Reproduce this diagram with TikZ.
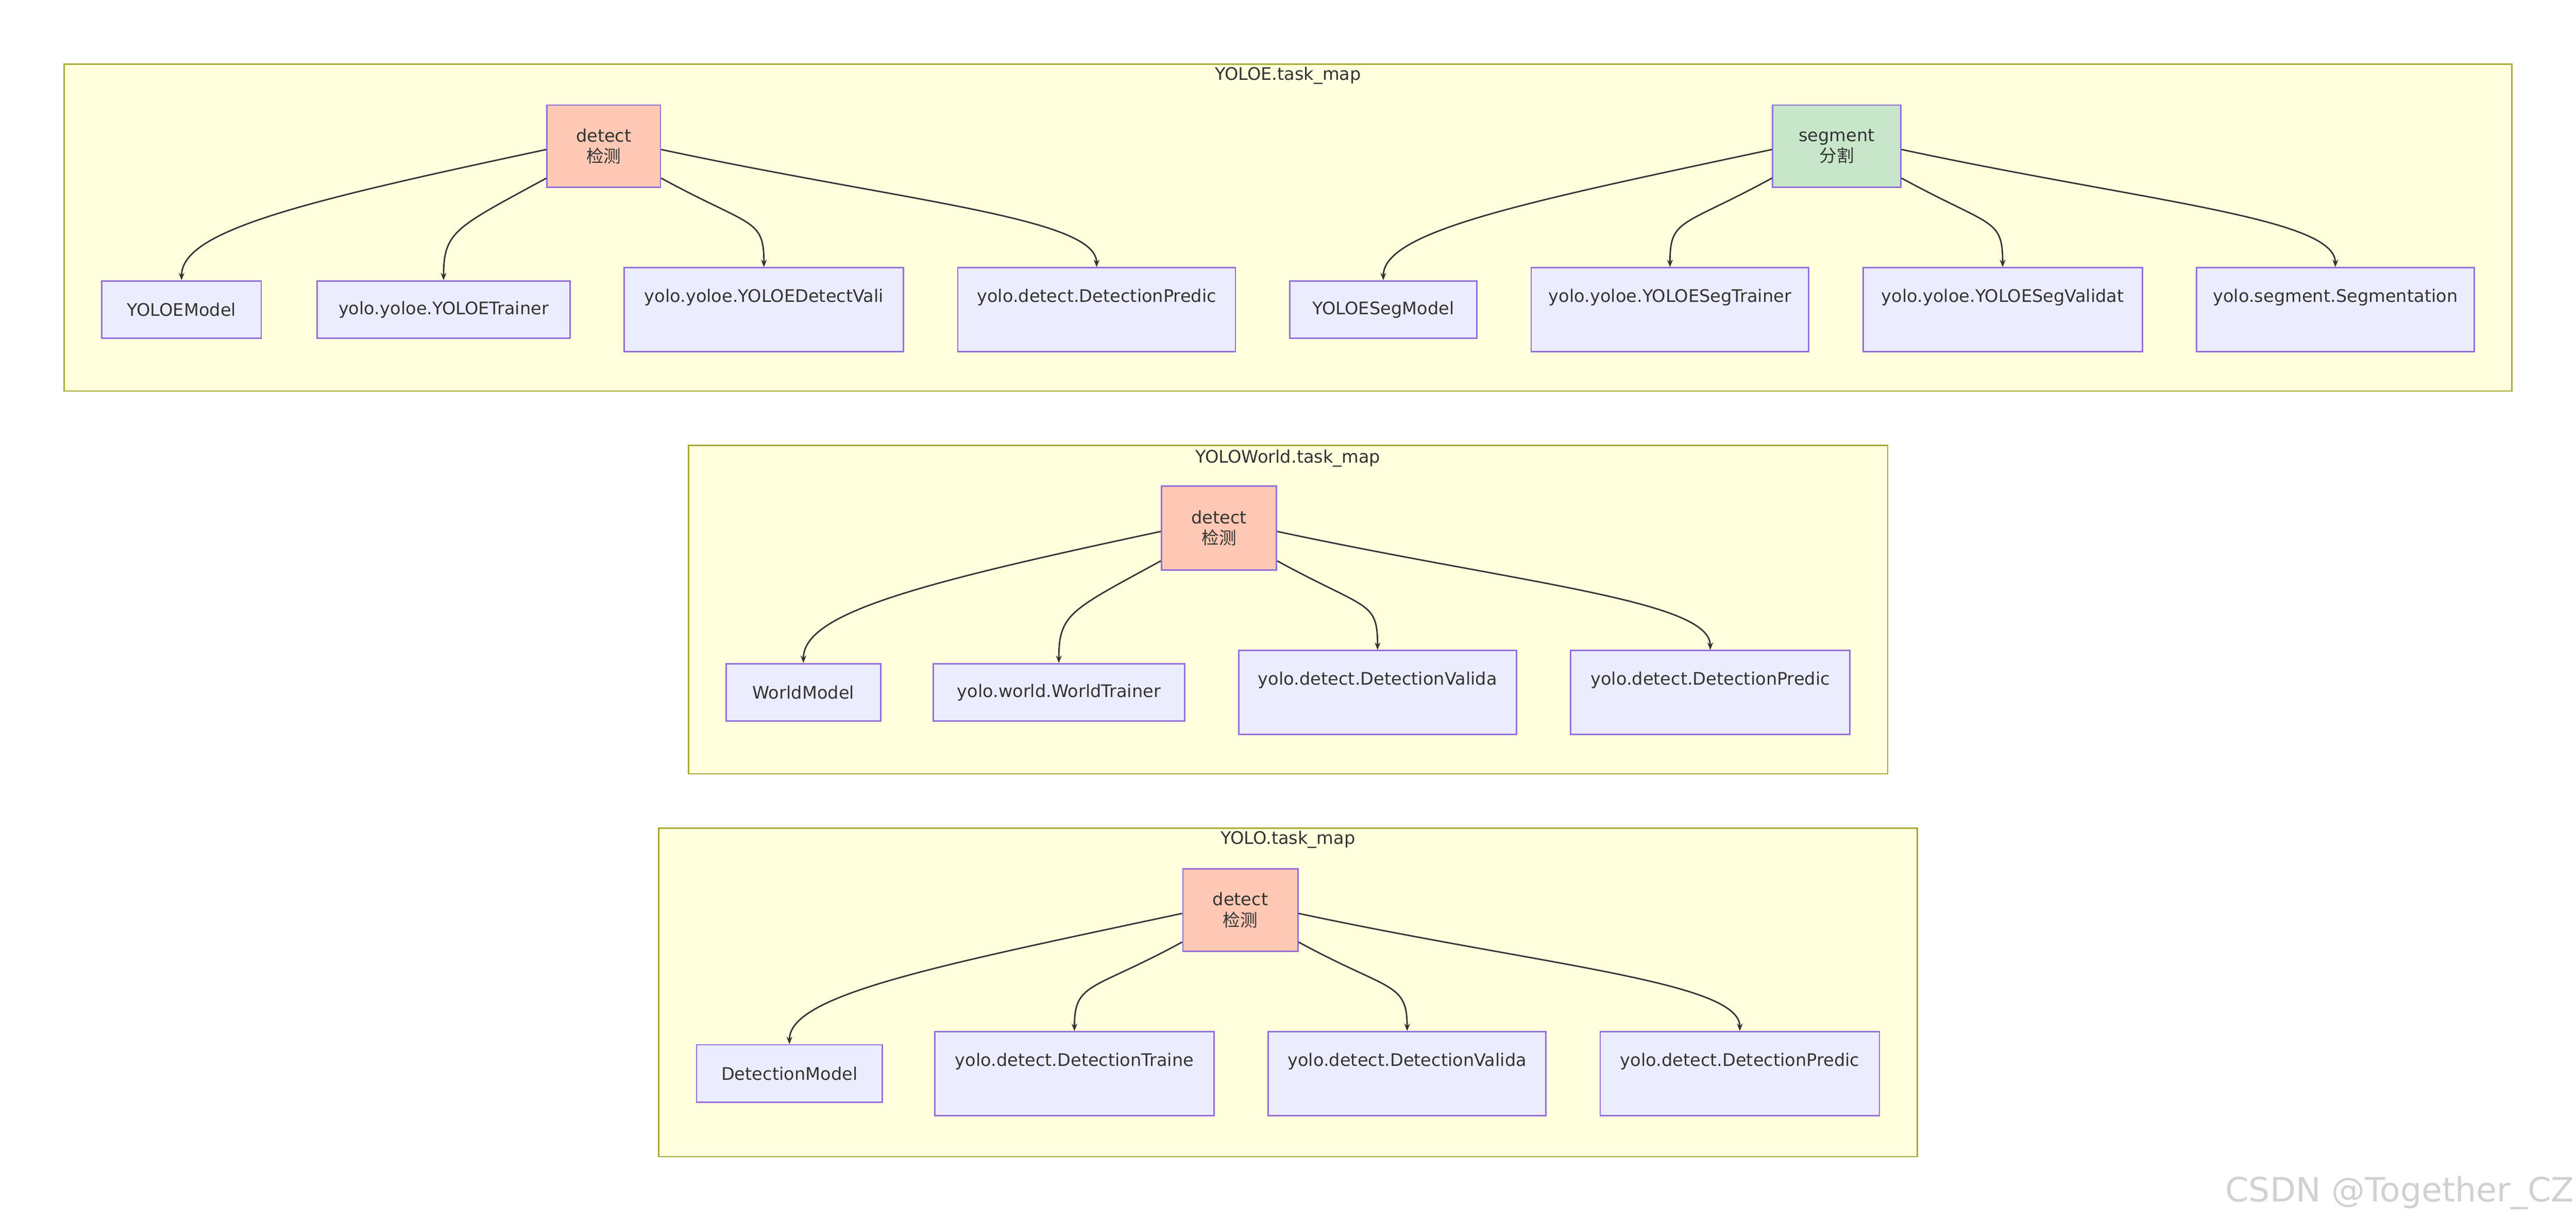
\documentclass[tikz,border=0pt]{standalone}
\usepackage{fontspec}
\setmainfont{DejaVu Sans}
\newfontfamily\cjk{Noto Sans CJK SC}
\usetikzlibrary{arrows.meta}
\definecolor{frm}{HTML}{FFFFDE}\definecolor{frmd}{HTML}{AAAA33}
\definecolor{bx}{HTML}{ECECFF}\definecolor{bxd}{HTML}{9370DB}
\definecolor{det}{HTML}{FFC8B4}\definecolor{seg}{HTML}{C8E6C9}
\definecolor{txt}{HTML}{333333}
\begin{document}
\begin{tikzpicture}[x=1mm,y=-1mm,
 font=\fontsize{30}{40}\selectfont, text=txt,
 frame/.style={draw=frmd,fill=frm,line width=2.5pt},
 box/.style={draw=bxd,fill=bx,line width=2.5pt,inner sep=0pt},
 par/.style={box,align=center},
 e/.style={draw=txt,line width=2.5pt,-{Stealth[length=4.5mm,width=3.5mm]}}]
\useasboundingbox (0,0) rectangle (1568,743);
\newcommand\bxx[6]{\node[box,minimum width=#4*1mm-#2*1mm,minimum height=#5*1mm-#3*1mm] (#1) at ({(#2+#4)/2},{(#3+#5)/2}) {};
 \node (#1t) at ({(#2+#4)/2},{#3+(min(#5-#3,36))/2}) {#6};}
\newcommand\edges[5]{% parent, c1..c4
 \draw[e] (#1.west) ++(0,2) .. controls +(-150,32) and +(0,-30) .. (#2.north);
 \draw[e] (#1.south west) ++(0,-6) .. controls +(-55,30) and +(0,-30) .. (#3.north);
 \draw[e] (#1.south east) ++(0,-6) .. controls +(55,30) and +(0,-30) .. (#4.north);
 \draw[e] (#1.east) ++(0,2) .. controls +(150,32) and +(0,-30) .. (#5.north);}
% YOLOE
\draw[frame] (39,39) rectangle (1529,238);
\node (t1) at (784,46) {YOLOE.task\_map};
\node[par,fill=det,minimum width=69mm,minimum height=50mm] (d1) at (367.5,89) {detect\\[-4pt]{\cjk 检测}};
\node[par,fill=seg,minimum width=78mm,minimum height=50mm] (s1) at (1118,89) {segment\\[-4pt]{\cjk 分割}};
\bxx{a1}{62}{171}{159}{206}{YOLOEModel}
\bxx{a2}{193}{171}{347}{206}{yolo.yoloe.YOLOETrainer}
\bxx{a3}{380}{163}{550}{214}{yolo.yoloe.YOLOEDetectVali}
\bxx{a4}{583}{163}{752}{214}{yolo.detect.DetectionPredic}
\bxx{b1}{785}{171}{899}{206}{YOLOESegModel}
\bxx{b2}{932}{163}{1101}{214}{yolo.yoloe.YOLOESegTrainer}
\bxx{b3}{1134}{163}{1304}{214}{yolo.yoloe.YOLOESegValidat}
\bxx{b4}{1337}{163}{1506}{214}{yolo.segment.Segmentation}
\edges{d1}{a1}{a2}{a3}{a4}
\edges{s1}{b1}{b2}{b3}{b4}
% YOLOWorld
\draw[frame] (419,271) rectangle (1149,471);
\node (t2) at (784,279) {YOLOWorld.task\_map};
\node[par,fill=det,minimum width=70mm,minimum height=51mm] (d2) at (742,321.5) {detect\\[-4pt]{\cjk 检测}};
\bxx{w1}{442}{404}{536}{439}{WorldModel}
\bxx{w2}{568}{404}{721}{439}{yolo.world.WorldTrainer}
\bxx{w3}{754}{396}{923}{447}{yolo.detect.DetectionValida}
\bxx{w4}{956}{396}{1126}{447}{yolo.detect.DetectionPredic}
\edges{d2}{w1}{w2}{w3}{w4}
% YOLO
\draw[frame] (401,504) rectangle (1167,704);
\node (t3) at (784,511) {YOLO.task\_map};
\node[par,fill=det,minimum width=70mm,minimum height=50mm] (d3) at (755,554) {detect\\[-4pt]{\cjk 检测}};
\bxx{y1}{424}{636}{537}{671}{DetectionModel}
\bxx{y2}{569}{628}{739}{679}{yolo.detect.DetectionTraine}
\bxx{y3}{772}{628}{941}{679}{yolo.detect.DetectionValida}
\bxx{y4}{974}{628}{1144}{679}{yolo.detect.DetectionPredic}
\edges{d3}{y1}{y2}{y3}{y4}
\node[text=black!18,font=\fontsize{58}{60}\selectfont,anchor=east] (wm) at (1568,726) {CSDN @Together\_CZ};
\end{tikzpicture}
\end{document}
